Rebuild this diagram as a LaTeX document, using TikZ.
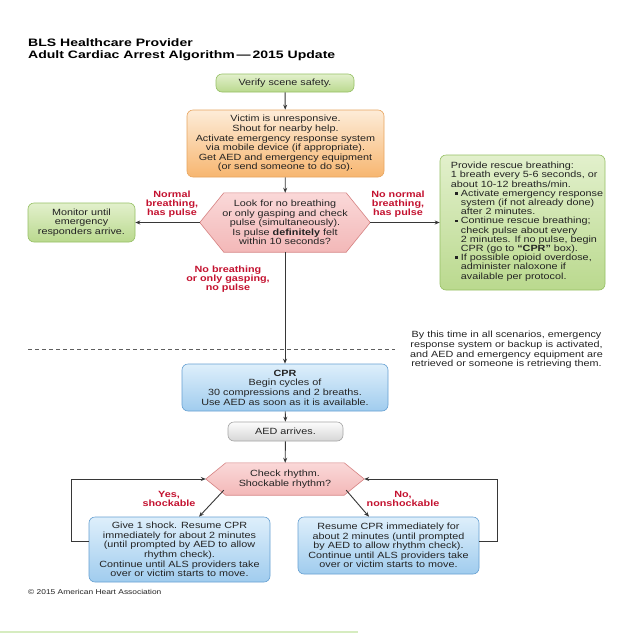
\documentclass[tikz,border=0pt]{standalone}
\usepackage{fontspec}
\setmainfont{Liberation Sans}[FakeStretch=1.2]
\newfontfamily\titlefont{Liberation Sans}[FakeStretch=1.3]
\usetikzlibrary{arrows.meta,backgrounds,shadings}
\definecolor{txt}{RGB}{35,35,35}
\definecolor{lnc}{RGB}{55,55,55}
\definecolor{redlbl}{RGB}{196,18,48}
\definecolor{gtop}{RGB}{226,240,204}
\definecolor{gbot}{RGB}{186,217,142}
\definecolor{gbrd}{RGB}{150,192,100}
\definecolor{otop}{RGB}{253,236,216}
\definecolor{obot}{RGB}{247,182,112}
\definecolor{obrd}{RGB}{232,165,95}
\definecolor{ptop}{RGB}{250,216,216}
\definecolor{pbot}{RGB}{243,184,184}
\definecolor{pbrd}{RGB}{214,130,130}
\definecolor{btop}{RGB}{222,239,251}
\definecolor{bbot}{RGB}{160,204,238}
\definecolor{bbrd}{RGB}{102,160,210}
\definecolor{atop}{RGB}{252,252,252}
\definecolor{abot}{RGB}{214,214,214}
\definecolor{abrd}{RGB}{165,165,165}
\definecolor{footg}{RGB}{214,236,192}
\begin{document}
\begin{tikzpicture}[x=1pt,y=-1pt,
  every node/.style={text=txt},
  bodyfont/.style={font=\fontsize{9}{9.6}\selectfont},
  boxbase/.style={bodyfont, align=center, rounded corners=6pt, line width=0.6pt, inner sep=1pt},
  gbox/.style={boxbase, draw=gbrd, top color=gtop, bottom color=gbot},
  obox/.style={boxbase, draw=obrd, top color=otop, bottom color=obot},
  bbox/.style={boxbase, draw=bbrd, top color=btop, bottom color=bbot},
  abox/.style={boxbase, draw=abrd, top color=atop, bottom color=abot},
  txtnode/.style={bodyfont, align=center, inner sep=0pt},
  hexfill/.style={draw=pbrd, line width=0.6pt, top color=ptop, bottom color=pbot},
  lbl/.style={text=redlbl, font=\bfseries\fontsize{9}{9.3}\selectfont, align=center, inner sep=0pt},
  arr/.style={draw=lnc, line width=0.9pt, -{Stealth[length=5pt,width=4pt]}},
  dashline/.style={draw=lnc!80, line width=0.7pt, dash pattern=on 4pt off 3pt}
]
\useasboundingbox (0,0) rectangle (638,638);

% title
\node[anchor=base west, inner sep=0pt, font=\titlefont\bfseries\fontsize{10.8}{12}\selectfont, text=black] (title1) at (28,46) {BLS Healthcare Provider};
\node[anchor=base west, inner sep=0pt, font=\titlefont\bfseries\fontsize{10.8}{12}\selectfont, text=black] (title2) at (28,58) {Adult Cardiac Arrest Algorithm\,—\,2015 Update};

% boxes
\node[gbox, minimum width=138pt, minimum height=18pt] (verify) at (285,83) {Verify scene safety.};
\node[obox, minimum width=197pt, minimum height=67pt] (victim) at (285.5,143.5) {Victim is unresponsive.\\Shout for nearby help.\\Activate emergency response system\\via mobile device (if appropriate).\\Get AED and emergency equipment\\(or send someone to do so).};
\node[txtnode, minimum width=170pt, minimum height=59pt] (hex1) at (285,222.5) {Look for no breathing\\or only gasping and check\\pulse (simultaneously).\\Is pulse \textbf{definitely} felt\\within 10 seconds?};
\node[gbox, minimum width=107pt, minimum height=39pt] (monitor) at (81.5,222.5) {Monitor until\\emergency\\responders arrive.};
\node[gbox, minimum width=165pt, minimum height=135pt] (rescue) at (522.5,222.5) {};
\node[txtnode, anchor=west, align=left, font=\fontsize{9}{9.2}\selectfont] (rescuetext) at ([xshift=11pt,yshift=1pt]rescue.west) {Provide rescue breathing:\\1 breath every 5-6 seconds, or\\about 10-12 breaths/min.\\
\hspace*{4pt}\makebox[6pt][l]{\rule[1.6pt]{2.6pt}{2.6pt}}Activate emergency response\\
\hspace*{10pt}system (if not already done)\\
\hspace*{10pt}after 2 minutes.\\
\hspace*{4pt}\makebox[6pt][l]{\rule[1.6pt]{2.6pt}{2.6pt}}Continue rescue breathing;\\
\hspace*{10pt}check pulse about every\\
\hspace*{10pt}2 minutes. If no pulse, begin\\
\hspace*{10pt}CPR (go to \textbf{“CPR”} box).\\
\hspace*{4pt}\makebox[6pt][l]{\rule[1.6pt]{2.6pt}{2.6pt}}If possible opioid overdose,\\
\hspace*{10pt}administer naloxone if\\
\hspace*{10pt}available per protocol.};

\node[lbl] (lnormal) at (172,204) {Normal\\breathing,\\has pulse};
\node[lbl] (lnonormal) at (398,204) {No normal\\breathing,\\has pulse};
\node[lbl] (lnobreath) at (228,279) {No breathing\\or only gasping,\\no pulse};

\node[txtnode] (note) at (506.5,350) {By this time in all scenarios, emergency\\response system or backup is activated,\\and AED and emergency equipment are\\retrieved or someone is retrieving them.};

\node[bbox, minimum width=206pt, minimum height=47pt] (cpr) at (285,387.5) {\textbf{CPR}\\Begin cycles of\\30 compressions and 2 breaths.\\Use AED as soon as it is available.};
\node[abox, minimum width=115pt, minimum height=19pt] (aed) at (285.5,431.5) {AED arrives.};
\node[txtnode, minimum width=158pt, minimum height=32pt] (hex2) at (285,479) {Check rhythm.\\Shockable rhythm?};

\node[lbl] (lyes) at (169,499) {Yes,\\shockable};
\node[lbl] (lno) at (403,499) {No,\\nonshockable};

\node[bbox, minimum width=181pt, minimum height=65pt] (shock) at (179.5,549.5) {Give 1 shock. Resume CPR\\immediately for about 2 minutes\\(until prompted by AED to allow\\rhythm check).\\Continue until ALS providers take\\over or victim starts to move.};
\node[bbox, minimum width=181pt, minimum height=57pt] (resume) at (388.5,545.5) {Resume CPR immediately for\\about 2 minutes (until prompted\\by AED to allow rhythm check).\\Continue until ALS providers take\\over or victim starts to move.};

\node[anchor=base west, inner sep=0pt, font=\fontsize{7}{8}\selectfont, text=txt] (copy) at (28,594) {© 2015 American Heart Association};

% background: hexagons
\begin{scope}[on background layer]
\fill[white] (0,0) rectangle (638,638);
\path[hexfill] (hex1.west) -- ([xshift=24pt]hex1.north west) -- ([xshift=-24pt]hex1.north east) -- (hex1.east) -- ([xshift=-24pt]hex1.south east) -- ([xshift=24pt]hex1.south west) -- cycle;
\path[hexfill] (hex2.west) -- ([xshift=20pt]hex2.north west) -- ([xshift=-20pt]hex2.north east) -- (hex2.east) -- ([xshift=-20pt]hex2.south east) -- ([xshift=20pt]hex2.south west) -- cycle;
\end{scope}

% dashed divider
\draw[dashline] (28,349) -- (395,349);

% connectors
\draw[arr] (verify) -- (victim);
\draw[arr] (victim) -- (hex1);
\draw[arr] (hex1.west) -- (monitor.east);
\draw[arr] (hex1.east) -- (rescue.west);
\draw[arr] (hex1.south) -- (cpr.north);
\draw[arr] (cpr) -- (aed);
\draw[arr] (aed) -- (hex2);
\draw[arr] ([xshift=18pt,yshift=5pt]hex2.south west) -- ([xshift=19.5pt]shock.north);
\draw[arr] ([xshift=-18pt,yshift=5pt]hex2.south east) -- ([xshift=-19.5pt]resume.north);
\draw[arr] ([yshift=8.5pt]shock.west) -- ++(-17,0) |- (hex2.west);
\draw[arr] ([yshift=4.5pt]resume.east) -- ++(18,0) |- (hex2.east);

% footer line
\draw[footg, line width=2.5pt] (0,632) -- (358,632);
\end{tikzpicture}
\end{document}
